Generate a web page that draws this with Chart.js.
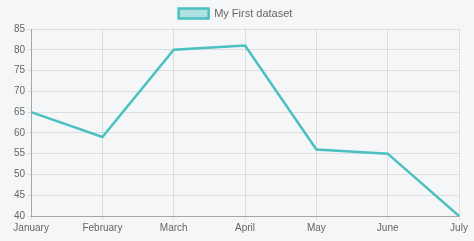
<!DOCTYPE html>
<html>
<head>
<meta charset="utf-8">
<script src="https://cdn.jsdelivr.net/npm/chart.js@4"></script>
<style>
  html, body { margin: 0; padding: 0; background: #f5f6f8; }
  #wrap { width: 474px; height: 241px; }
</style>
</head>
<body>
<div id="wrap"><canvas id="myChart"></canvas></div>
<script>
const labels = ['January', 'February', 'March', 'April', 'May', 'June', 'July'];
const values = [65, 59, 80, 81, 56, 55, 40];
const seriesName = 'My First dataset';

document.addEventListener('DOMContentLoaded', function() {
    Chart.defaults.font.family = '"Liberation Sans", Arial, sans-serif';
    Chart.defaults.font.size = 10;
    Chart.defaults.color = '#666';

    const config = {
        type: 'line',
        data: {
            labels: labels,
            datasets: [{
                label: seriesName,
                data: values,
                borderColor: 'rgb(75, 192, 192)',
                backgroundColor: 'rgba(75, 192, 192, 0.4)',
                borderWidth: 2.5,
                pointRadius: 0,
                tension: 0,
                fill: false
            }]
        },
        options: {
            responsive: true,
            maintainAspectRatio: false,
            animation: false,
            layout: { padding: { left: 12, right: 15, top: 4, bottom: 5 } },
            plugins: {
                legend: {
                    position: 'top',
                    labels: { boxWidth: 30, boxHeight: 10, padding: 4, font: { size: 11 } }
                },
                tooltip: { enabled: false }
            },
            scales: {
                x: {
                    grid: { color: 'rgba(0,0,0,0.1)', tickLength: 4 },
                    border: { color: 'rgba(0,0,0,0.25)' },
                    ticks: { maxRotation: 0, padding: 2 }
                },
                y: {
                    min: 40,
                    max: 85,
                    ticks: { stepSize: 5, padding: 2 },
                    grid: { color: 'rgba(0,0,0,0.1)', tickLength: 4 },
                    border: { color: 'rgba(0,0,0,0.25)' }
                }
            }
        }
    };

    new Chart(document.getElementById('myChart').getContext('2d'), config);
});
</script>
</body>
</html>
